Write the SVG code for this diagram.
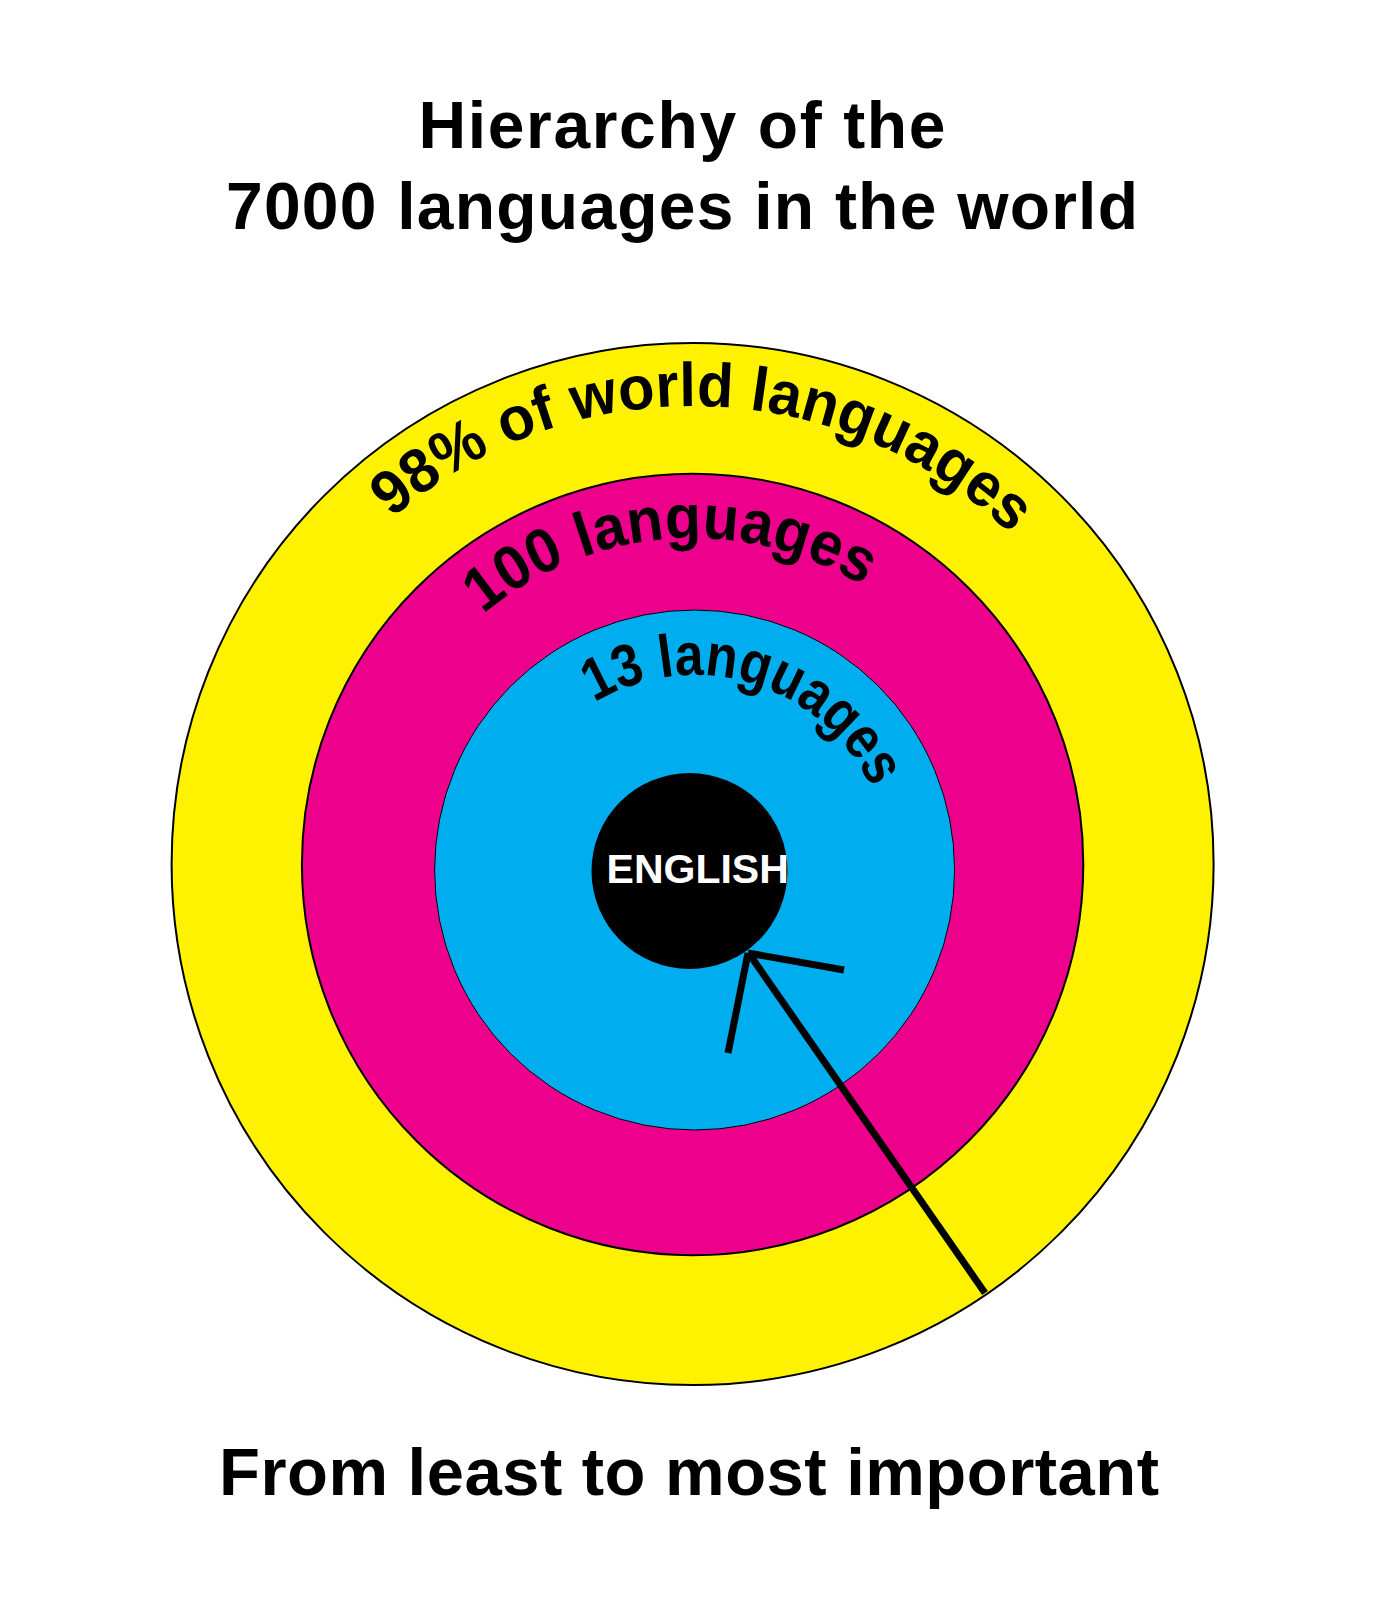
<svg xmlns="http://www.w3.org/2000/svg" xmlns:xlink="http://www.w3.org/1999/xlink" width="1383" height="1600" viewBox="0 0 1383 1600">
<style>
.t{font-family:"Liberation Sans",Arial,sans-serif;font-weight:bold;fill:#000}
.ring{stroke:#000}
.arrow{stroke:#000;stroke-width:7;fill:none;stroke-linecap:butt}
</style>
<defs>
<path id="arcOuter" d="M392.1,518.4 A458,458 0 0 1 1010.8,534.6"/>
<path id="arcMiddle" d="M483.1,614.3 A326,326 0 0 1 862.9,586.0"/>
<path id="arcInner" d="M594.2,702.8 A195,195 0 0 1 871.3,787.6"/>
</defs>
<rect width="1383" height="1600" fill="#fff"/>
<g id="title">
<text class="t" x="682" y="148" font-size="66" text-anchor="middle" textLength="527" lengthAdjust="spacing">Hierarchy of the</text>
<text class="t" x="682" y="229" font-size="66" text-anchor="middle" textLength="912" lengthAdjust="spacing">7000 languages in the world</text>
</g>
<g id="ring-outer">
<circle class="ring" cx="692.6" cy="864" r="521" fill="#FFF200" stroke-width="2"/>
<text class="t" font-size="62"><textPath xlink:href="#arcOuter" href="#arcOuter" textLength="679" lengthAdjust="spacingAndGlyphs">98% of world languages</textPath></text>
</g>
<g id="ring-middle">
<circle class="ring" cx="692.6" cy="864.5" r="390.7" fill="#EC008C" stroke-width="2"/>
<text class="t" font-size="62"><textPath xlink:href="#arcMiddle" href="#arcMiddle" textLength="407" lengthAdjust="spacingAndGlyphs">100 languages</textPath></text>
</g>
<g id="ring-inner">
<circle class="ring" cx="694.6" cy="870" r="260" fill="#00AEEF" stroke-width="1"/>
<text class="t" font-size="60"><textPath xlink:href="#arcInner" href="#arcInner" textLength="327" lengthAdjust="spacingAndGlyphs">13 languages</textPath></text>
</g>
<g id="core">
<circle cx="689.5" cy="871" r="98" fill="#000"/>
<text class="t" x="697.7" y="883" font-size="41" text-anchor="middle" style="fill:#fff">ENGLISH</text>
</g>
<g id="connectors">
<line class="arrow" x1="750" y1="955" x2="985" y2="1293"/>
<line class="arrow" x1="748" y1="953" x2="844" y2="970"/>
<line class="arrow" x1="748" y1="953" x2="728" y2="1053"/>
</g>
<g id="caption">
<text class="t" x="689" y="1495" font-size="67" text-anchor="middle" textLength="940" lengthAdjust="spacing">From least to most important</text>
</g>
</svg>
